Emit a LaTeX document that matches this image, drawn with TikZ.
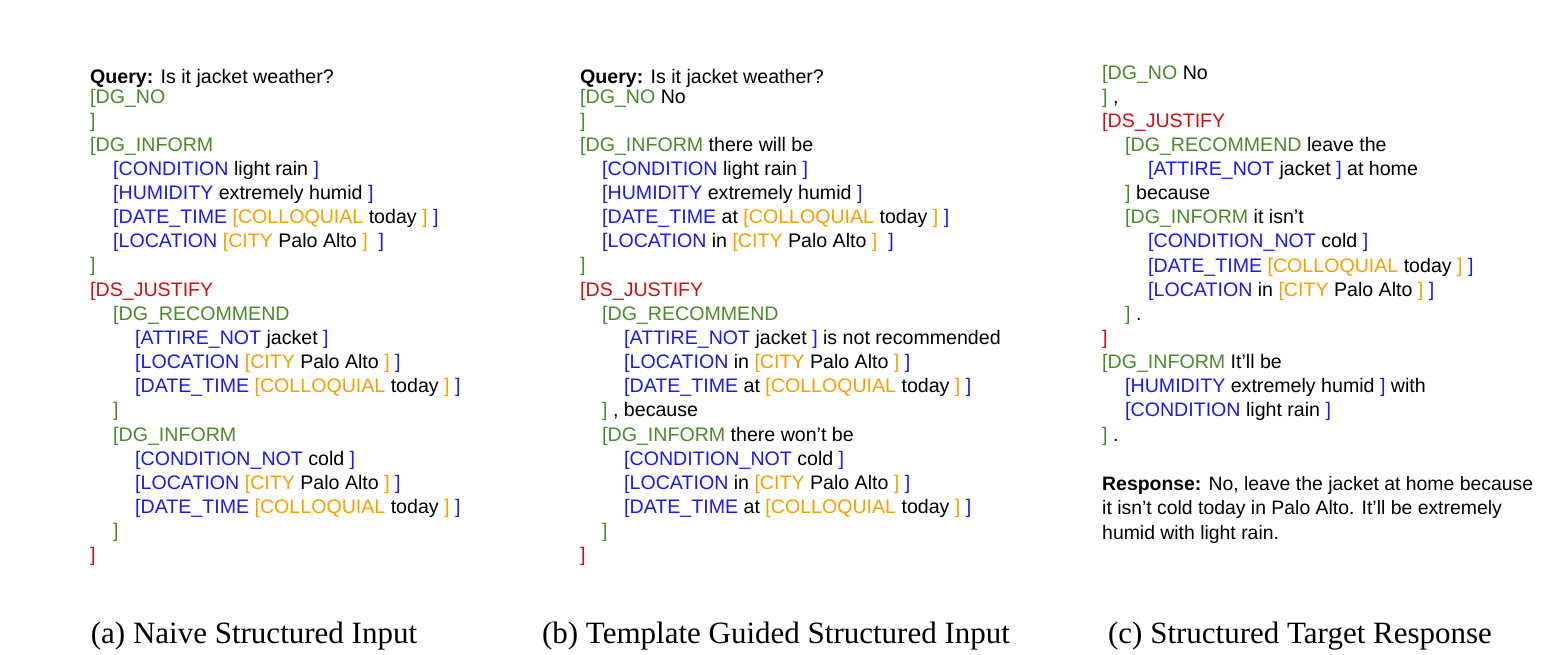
\documentclass[tikz,border=0pt]{standalone}
\usepackage{fontspec}
\setmainfont{Liberation Sans}
\newfontfamily\capfont{Liberation Serif}
\definecolor{cg}{HTML}{4A8A2A}
\definecolor{cb}{HTML}{1A1AF0}
\definecolor{co}{HTML}{F5A000}
\definecolor{cr}{HTML}{D01010}
\newcommand{\Gx}[1]{\textcolor{cg}{#1}}
\newcommand{\Bx}[1]{\textcolor{cb}{#1}}
\newcommand{\Ox}[1]{\textcolor{co}{#1}}
\newcommand{\Rx}[1]{\textcolor{cr}{#1}}
\begin{document}
\begin{tikzpicture}[x=1pt,y=-1pt,
  ln/.style={anchor=west,inner sep=0pt,font=\fontsize{19.6}{22}\selectfont,text height=13.5pt,text depth=4pt},
  qn/.style={anchor=west,inner sep=0pt,font=\fontsize{19.6}{22}\selectfont},
  captext/.style={anchor=center,font=\capfont\fontsize{31}{34}\selectfont}]
\useasboundingbox (0,0) rectangle (1555,654);
% column a
\node[qn] (qa) at (90,78) {\textbf{Query:} Is it jacket weather?};
\node[ln] (a1) at (90,99) {\Gx{[DG\_NO}};
\node[ln] (a2) at (90,123) {\Gx{]}};
\node[ln] (a3) at (90,147) {\Gx{[DG\_INFORM}};
\node[ln] (a4) at (113,171) {\Bx{[CONDITION} light rain \Bx{]}};
\node[ln] (a5) at (113,195) {\Bx{[HUMIDITY} extremely humid \Bx{]}};
\node[ln] (a6) at (113,219) {\Bx{[DATE\_TIME} \Ox{[COLLOQUIAL} today \Ox{]} \Bx{]}};
\node[ln] (a7) at (113,243) {\Bx{[LOCATION} \Ox{[CITY} Palo Alto \Ox{]}\ \ \Bx{]}};
\node[ln] (a8) at (90,267) {\Gx{]}};
\node[ln] (a9) at (90,292) {\Rx{[DS\_JUSTIFY}};
\node[ln] (a10) at (113,316) {\Gx{[DG\_RECOMMEND}};
\node[ln] (a11) at (135,340) {\Bx{[ATTIRE\_NOT} jacket \Bx{]}};
\node[ln] (a12) at (135,364) {\Bx{[LOCATION} \Ox{[CITY} Palo Alto \Ox{]} \Bx{]}};
\node[ln] (a13) at (135,388) {\Bx{[DATE\_TIME} \Ox{[COLLOQUIAL} today \Ox{]} \Bx{]}};
\node[ln] (a14) at (113,412) {\Gx{]}};
\node[ln] (a15) at (113,437) {\Gx{[DG\_INFORM}};
\node[ln] (a16) at (135,461) {\Bx{[CONDITION\_NOT} cold \Bx{]}};
\node[ln] (a17) at (135,485) {\Bx{[LOCATION} \Ox{[CITY} Palo Alto \Ox{]} \Bx{]}};
\node[ln] (a18) at (135,509) {\Bx{[DATE\_TIME} \Ox{[COLLOQUIAL} today \Ox{]} \Bx{]}};
\node[ln] (a19) at (113,533) {\Gx{]}};
\node[ln] (a20) at (90,557) {\Rx{]}};
% column b
\node[qn] (qb) at (580,78) {\textbf{Query:} Is it jacket weather?};
\node[ln] (b1) at (580,99) {\Gx{[DG\_NO} No};
\node[ln] (b2) at (580,123) {\Gx{]}};
\node[ln] (b3) at (580,147) {\Gx{[DG\_INFORM} there will be};
\node[ln] (b4) at (602,171) {\Bx{[CONDITION} light rain \Bx{]}};
\node[ln] (b5) at (602,195) {\Bx{[HUMIDITY} extremely humid \Bx{]}};
\node[ln] (b6) at (602,219) {\Bx{[DATE\_TIME} at \Ox{[COLLOQUIAL} today \Ox{]} \Bx{]}};
\node[ln] (b7) at (602,243) {\Bx{[LOCATION} in \Ox{[CITY} Palo Alto \Ox{]}\ \ \Bx{]}};
\node[ln] (b8) at (580,267) {\Gx{]}};
\node[ln] (b9) at (580,292) {\Rx{[DS\_JUSTIFY}};
\node[ln] (b10) at (602,316) {\Gx{[DG\_RECOMMEND}};
\node[ln] (b11) at (624,340) {\Bx{[ATTIRE\_NOT} jacket \Bx{]} is not recommended};
\node[ln] (b12) at (624,364) {\Bx{[LOCATION} in \Ox{[CITY} Palo Alto \Ox{]} \Bx{]}};
\node[ln] (b13) at (624,388) {\Bx{[DATE\_TIME} at \Ox{[COLLOQUIAL} today \Ox{]} \Bx{]}};
\node[ln] (b14) at (602,412) {\Gx{]} , because};
\node[ln] (b15) at (602,437) {\Gx{[DG\_INFORM} there won't be};
\node[ln] (b16) at (624,461) {\Bx{[CONDITION\_NOT} cold \Bx{]}};
\node[ln] (b17) at (624,485) {\Bx{[LOCATION} in \Ox{[CITY} Palo Alto \Ox{]} \Bx{]}};
\node[ln] (b18) at (624,509) {\Bx{[DATE\_TIME} at \Ox{[COLLOQUIAL} today \Ox{]} \Bx{]}};
\node[ln] (b19) at (602,533) {\Gx{]}};
\node[ln] (b20) at (580,557) {\Rx{]}};
% column c
\node[ln] (c1) at (1102,75) {\Gx{[DG\_NO} No};
\node[ln] (c2) at (1102,99) {\Gx{]} ,};
\node[ln] (c3) at (1102,123) {\Rx{[DS\_JUSTIFY}};
\node[ln] (c4) at (1125,147) {\Gx{[DG\_RECOMMEND} leave the};
\node[ln] (c5) at (1148,171) {\Bx{[ATTIRE\_NOT} jacket \Bx{]} at home};
\node[ln] (c6) at (1125,195) {\Gx{]} because};
\node[ln] (c7) at (1125,219) {\Gx{[DG\_INFORM} it isn't};
\node[ln] (c8) at (1148,243) {\Bx{[CONDITION\_NOT} cold \Bx{]}};
\node[ln] (c9) at (1148,268) {\Bx{[DATE\_TIME} \Ox{[COLLOQUIAL} today \Ox{]} \Bx{]}};
\node[ln] (c10) at (1148,292) {\Bx{[LOCATION} in \Ox{[CITY} Palo Alto \Ox{]} \Bx{]}};
\node[ln] (c11) at (1125,316) {\Gx{]} .};
\node[ln] (c12) at (1102,340) {\Rx{]}};
\node[ln] (c13) at (1102,364) {\Gx{[DG\_INFORM} It'll be};
\node[ln] (c14) at (1125,388) {\Bx{[HUMIDITY} extremely humid \Bx{]} with};
\node[ln] (c15) at (1125,412) {\Bx{[CONDITION} light rain \Bx{]}};
\node[ln] (c16) at (1102,437) {\Gx{]} .};
\node[anchor=north west,inner sep=0pt,align=left,font=\fontsize{19.4}{24.5}\selectfont] (resp) at (1102,476)
 {\textbf{Response:} No, leave the jacket at home because\\it isn't cold today in Palo Alto. It'll be extremely\\humid with light rain.};
% captions
\node[captext] (capa) at (254,636) {(a) Naive Structured Input};
\node[captext] (capb) at (776,636) {(b) Template Guided Structured Input};
\node[captext] (capc) at (1300,636) {(c) Structured Target Response};
\end{tikzpicture}
\end{document}
